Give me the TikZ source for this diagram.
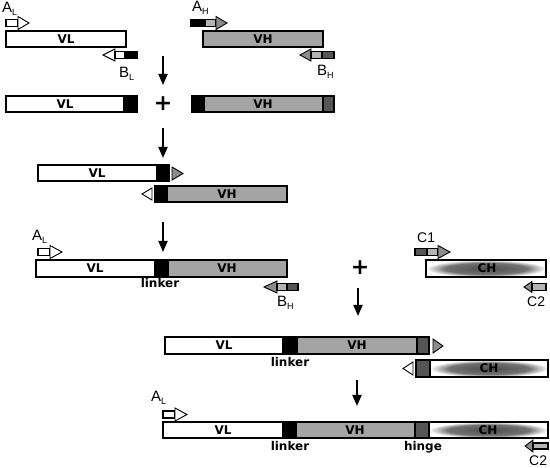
\documentclass[tikz,border=0pt]{standalone}
\usepackage{fontspec}
\setmainfont{Liberation Sans}
\newfontfamily\segfont{DejaVu Sans}
\usetikzlibrary{arrows.meta}
\definecolor{vhgray}{HTML}{A4A4A4}
\definecolor{hnggray}{HTML}{555555}
\definecolor{pale}{HTML}{B4B4B4}
\definecolor{tipgray}{HTML}{8C8C8C}
\colorlet{chdark}{black!70}
\colorlet{chmid}{black!55}
\pgfdeclareradialshading{chshade}{\pgfpointorigin}{color(0bp)=(chdark); color(17bp)=(chmid); color(25bp)=(white); color(50bp)=(white)}
\newcommand{\lab}[2]{#1\raisebox{-.35ex}{\fontsize{9}{9}\selectfont #2}}

\begin{document}
\begin{tikzpicture}[x=1pt,y=-1pt,
		seg/.style={draw=black, line width=1.1pt},
		vl/.style={seg, fill=white},
		vh/.style={seg, fill=vhgray},
		lnk/.style={seg, fill=black},
		hng/.style={seg, fill=hnggray},
		ch/.style={seg, shade, shading=chshade},
		tip/.style={draw=black, line width=0.9pt, line join=miter},
		segtext/.style={inner sep=0pt, font=\segfont\bfseries\fontsize{12}{12}\selectfont},
		under/.style={inner sep=0pt, anchor=base, font=\segfont\bfseries\fontsize{12}{12}\selectfont},
		primer/.style={inner sep=0pt, anchor=base west, font=\fontsize{15}{15}\selectfont},
		cprimer/.style={primer, font=\fontsize{14}{14}\selectfont},
		plus/.style={inner sep=0pt, font=\segfont\bfseries\fontsize{22}{22}\selectfont},
		reaction/.style={line width=1.8pt, -{Triangle[width=9pt,length=11pt]}}]
	\useasboundingbox (0,0) rectangle (550,468);

	% first PCR: VL and VH
	\node[primer] (al1) at (2,13) {\lab{A}{L}};
	\draw[seg, fill=white] (6,19.5) rectangle (18,26.5);
	\draw[tip, fill=white] (18,16.5) -- (29,23) -- (18,29.5) -- cycle;
	\draw[vl] (6,31) rectangle (126,47);
	\node[segtext] (vl1) at (66,39) {VL};
	\draw[tip, fill=white] (115,49) -- (103,55) -- (115,61) -- cycle;
	\draw[seg, fill=white] (115,51.5) rectangle (125,58.5);
	\draw[seg, fill=black] (125,51.5) rectangle (137,58.5);
	\node[primer] (bl1) at (119,78) {\lab{B}{L}};

	\node[primer] (ah1) at (192,12) {\lab{A}{H}};
	\draw[seg, fill=black] (191,19.5) rectangle (205,26.5);
	\draw[seg, fill=pale] (205,19.5) rectangle (216,26.5);
	\draw[tip, fill=tipgray] (216,16.5) -- (227,23) -- (216,29.5) -- cycle;
	\draw[vh] (203,31) rectangle (323,47);
	\node[segtext] (vh1) at (263,39) {VH};
	\draw[tip, fill=tipgray] (311,49) -- (300,55) -- (311,61) -- cycle;
	\draw[seg, fill=pale] (311,51.5) rectangle (322,58.5);
	\draw[seg, fill=hnggray] (322,51.5) rectangle (334,58.5);
	\node[primer] (bh1) at (317,76) {\lab{B}{H}};

	\coordinate (s1) at (163,56);
	\coordinate (e1) at (163,85);
	\draw[reaction] (s1) -- (e1);

	% products with linker ends
	\draw[vl] (6,96) rectangle (124,112);
	\draw[lnk] (124,96) rectangle (137,112);
	\node[segtext] (vl2) at (65,104) {VL};
	\node[plus] (p1) at (163,104) {+};
	\draw[lnk] (192,96) rectangle (204,112);
	\draw[vh] (204,96) rectangle (323,112);
	\draw[hng] (323,96) rectangle (334,112);
	\node[segtext] (vh2) at (263,104) {VH};

	\coordinate (s2) at (163,128);
	\coordinate (e2) at (163,158);
	\draw[reaction] (s2) -- (e2);

	% overlap extension
	\draw[vl] (38,165) rectangle (157,181);
	\draw[lnk] (157,165) rectangle (169,181);
	\node[segtext] (vl3) at (97,173) {VL};
	\draw[tip, fill=tipgray] (172,167) -- (183,173.5) -- (172,180) -- cycle;
	\draw[lnk] (155,186) rectangle (167,202);
	\draw[vh] (167,186) rectangle (287,202);
	\node[segtext] (vh3) at (227,194) {VH};
	\draw[tip, fill=white] (152,188) -- (142,194) -- (152,200) -- cycle;

	\coordinate (s3) at (163,222);
	\coordinate (e3) at (163,252);
	\draw[reaction] (s3) -- (e3);

	% scFv and CH
	\node[primer] (al2) at (32,241) {\lab{A}{L}};
	\draw[seg, fill=white] (38,248.5) rectangle (50,255.5);
	\draw[tip, fill=white] (50,245.5) -- (62,252) -- (50,258.5) -- cycle;
	\draw[vl] (36,260) rectangle (155,277);
	\draw[lnk] (155,260) rectangle (168,277);
	\draw[vh] (168,260) rectangle (287,277);
	\node[segtext] (vl4) at (95,268.5) {VL};
	\node[segtext] (vh4) at (227,268.5) {VH};
	\node[under] (lk1) at (160,288) {linker};
	\draw[tip, fill=tipgray] (277,281) -- (264,287) -- (277,293) -- cycle;
	\draw[seg, fill=pale] (277,283.5) rectangle (287,290.5);
	\draw[seg, fill=hnggray] (287,283.5) rectangle (298,290.5);
	\node[primer] (bh2) at (277,307) {\lab{B}{H}};

	\node[plus] (p2) at (360,268) {+};

	\node[cprimer] (c1) at (417,243) {C1};
	\draw[seg, fill=hnggray] (415,248.5) rectangle (427,255.5);
	\draw[seg, fill=pale] (427,248.5) rectangle (438,255.5);
	\draw[tip, fill=tipgray] (438,245.5) -- (450,252) -- (438,258.5) -- cycle;
	\draw[ch] (426,260) rectangle (546,277);
	\node[segtext] (ch1) at (487,268.5) {CH};
	\draw[tip, fill=tipgray] (532,281.5) -- (524,287) -- (532,292.5) -- cycle;
	\draw[seg, fill=pale] (532,283.5) rectangle (546,290.5);
	\node[cprimer] (c2a) at (527,307) {C2};

	\coordinate (s4) at (358,288);
	\coordinate (e4) at (358,316);
	\draw[reaction] (s4) -- (e4);

	% second overlap extension
	\draw[vl] (165,337) rectangle (283,354);
	\draw[lnk] (283,337) rectangle (297,354);
	\draw[vh] (297,337) rectangle (417,354);
	\draw[hng] (417,337) rectangle (429,354);
	\node[segtext] (vl5) at (224,345.5) {VL};
	\node[segtext] (vh5) at (357,345.5) {VH};
	\draw[tip, fill=tipgray] (433,339) -- (443,346) -- (433,353) -- cycle;
	\node[under] (lk2) at (290,367) {linker};
	\draw[tip, fill=white] (413,362) -- (403,368.5) -- (413,375) -- cycle;
	\draw[hng] (416,360) rectangle (430,377);
	\draw[ch] (430,360) rectangle (548,377);
	\node[segtext] (ch2) at (489,368.5) {CH};

	\coordinate (s5) at (357,380);
	\coordinate (e5) at (357,406);
	\draw[reaction] (s5) -- (e5);

	% scFv-Fc
	\node[primer] (al3) at (151,402) {\lab{A}{L}};
	\draw[seg, fill=white] (163,411) rectangle (175,418);
	\draw[tip, fill=white] (175,408) -- (187,414.5) -- (175,421) -- cycle;
	\draw[vl] (163,422) rectangle (283,438);
	\draw[lnk] (283,422) rectangle (296,438);
	\draw[vh] (296,422) rectangle (415,438);
	\draw[hng] (415,422) rectangle (429,438);
	\draw[ch] (429,422) rectangle (548,438);
	\node[segtext] (vl6) at (223,430) {VL};
	\node[segtext] (vh6) at (355,430) {VH};
	\node[segtext] (ch3) at (488,430) {CH};
	\node[under] (lk3) at (290,451) {linker};
	\node[under] (hg) at (423,451) {hinge};
	\draw[tip, fill=tipgray] (533,440) -- (525,446) -- (533,452) -- cycle;
	\draw[seg, fill=pale] (533,443) rectangle (548,449);
	\node[cprimer] (c2b) at (529,465.5) {C2};
\end{tikzpicture}
\end{document}
